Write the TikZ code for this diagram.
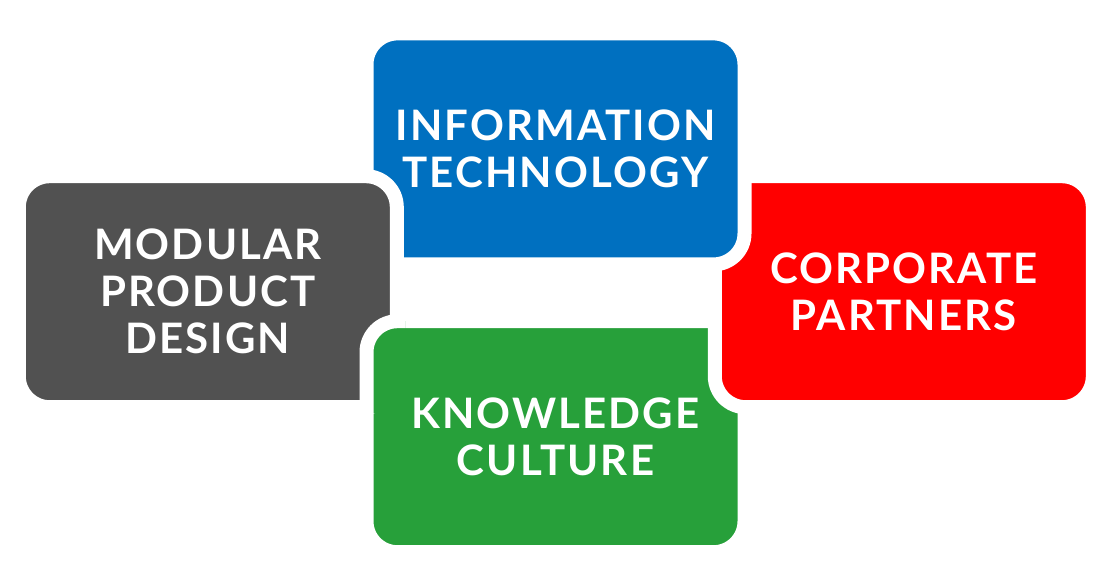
\documentclass[tikz,border=0pt]{standalone}
\usepackage{fontspec}
\newfontfamily\panelfont{Lato}[LetterSpace=5]
\definecolor{mpdgray}{HTML}{515151}
\definecolor{itblue}{HTML}{0070C0}
\definecolor{cpred}{HTML}{FF0000}
\definecolor{kcgreen}{HTML}{27A03A}
\tikzset{
  panel/.style={draw=white, line width=14pt, rounded corners=31pt,
    minimum width=378pt, minimum height=231pt, inner sep=0pt, outer sep=0pt,
    text=white, align=center,
    font=\panelfont\bfseries\fontsize{42}{47}\selectfont},
  panelcut/.style={draw=white, line width=14pt, rounded corners=31pt}
}

\begin{document}
\begin{tikzpicture}[x=1pt,y=-1pt]
        \useasboundingbox (0,0) rectangle (1110,585);

        \node[panel, fill=kcgreen] (kc) at (555.5,436.7) {KNOWLEDGE\\CULTURE};
        \node[panel, fill=cpred] (cp) at (903.8,291.7) {CORPORATE\\PARTNERS};
        \node[panel, fill=itblue] (it) at (555.5,148.9) {INFORMATION\\TECHNOLOGY};
        \node[panel, fill=mpdgray] (mpd) at (207.8,291.7) {MODULAR\\PRODUCT\\DESIGN};

        % green corner goes over the gray one
        \begin{scope}
        \clip (340,310) rectangle (405,412);
        \draw[panelcut, fill=kcgreen] (kc.north west) rectangle (kc.south east);
        \end{scope}
\end{tikzpicture}
\end{document}
